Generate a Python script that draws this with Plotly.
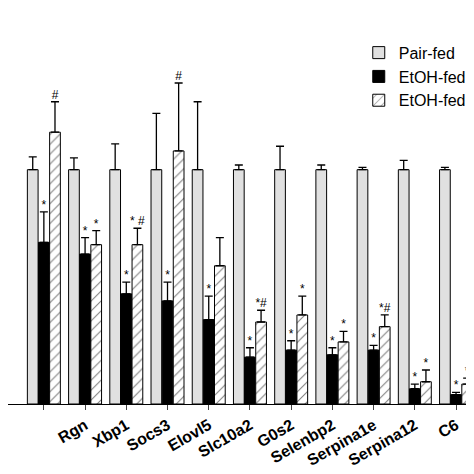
import numpy as np
import plotly.graph_objects as go

genes = ["Insig1", "Rgn", "Xbp1", "Socs3", "Elovl5", "Slc10a2", "G0s2", "Selenbp2",
         "Serpina1e", "Serpina12", "C6", "Fabp5"]
pair = [1.0, 1.0, 1.0, 1.0, 1.0, 1.0, 1.0, 1.0, 1.0, 1.0, 1.0, 1.0]
pair_err = [0.055, 0.05, 0.11, 0.24, 0.29, 0.02, 0.10, 0.02, 0.01, 0.04, 0.01, 0.03]
etoh = [0.69, 0.64, 0.47, 0.44, 0.36, 0.20, 0.23, 0.21, 0.23, 0.065, 0.04, 0.05]
etoh_err = [0.13, 0.07, 0.05, 0.08, 0.10, 0.04, 0.04, 0.03, 0.02, 0.02, 0.01, 0.02]
treat = [1.16, 0.68, 0.68, 1.08, 0.59, 0.35, 0.38, 0.265, 0.33, 0.095, 0.085, 0.1]
treat_err = [0.13, 0.06, 0.07, 0.29, 0.12, 0.05, 0.08, 0.045, 0.05, 0.05, 0.025, 0.03]
etoh_sig = ["*", "*", "*", "*", "*", "*", "*", "*", "*", "*", "*", "*"]
treat_sig = ["#", "*", "* #", "#", "", "*#", "*", "*", "*#", "*", "*", "*"]

idx = np.arange(len(genes))
w = 0.26
line = dict(color="black", width=1)
err = lambda e: dict(type="data", array=e, arrayminus=[0] * len(e), symmetric=False,
                     color="black", thickness=1.3, width=4)

fig = go.Figure()
fig.add_trace(go.Bar(x=idx - 0.27, y=pair, width=w, name="Pair-fed",
                     marker=dict(color="#e0e0e0", line=line), error_y=err(pair_err)))
fig.add_trace(go.Bar(x=idx, y=etoh, width=w, name="EtOH-fed",
                     marker=dict(color="black", line=line), error_y=err(etoh_err)))
fig.add_trace(go.Bar(x=idx + 0.27, y=treat, width=w, name="EtOH-fed",
                     marker=dict(color="white", line=line,
                                 pattern=dict(shape="/", fgcolor="black", size=7, solidity=0.15)),
                     error_y=err(treat_err)))
fig.add_trace(go.Scatter(x=idx, y=np.array(etoh) + np.array(etoh_err), mode="text",
                         text=etoh_sig, textposition="top center", showlegend=False,
                         textfont=dict(size=12, color="black")))
fig.add_trace(go.Scatter(x=idx + 0.27, y=np.array(treat) + np.array(treat_err), mode="text",
                         text=treat_sig, textposition="top center", showlegend=False,
                         textfont=dict(size=12, color="black")))

fig.update_layout(
    width=474, height=474, margin=dict(l=0, r=0, t=0, b=78, autoexpand=False),
    plot_bgcolor="white", paper_bgcolor="white", barmode="overlay",
    font=dict(family="Liberation Sans, Arial", color="black"),
    xaxis=dict(range=[-0.87, 10.63], tickvals=idx, ticktext=["<b>%s</b>" % g for g in genes],
               tickangle=-30, automargin=False,
               showline=True, linecolor="black", ticks="outside", ticklen=5,
               tickfont=dict(size=16, family="Liberation Sans, Arial"),
               showgrid=False, zeroline=False),
    yaxis=dict(range=[0, 1.69], visible=False, automargin=False),
    legend=dict(x=0.74, y=0.93, xanchor="left", yanchor="top", font=dict(size=16),
                bgcolor="rgba(0,0,0,0)", tracegroupgap=0),
)
fig.write_html("out.html")
